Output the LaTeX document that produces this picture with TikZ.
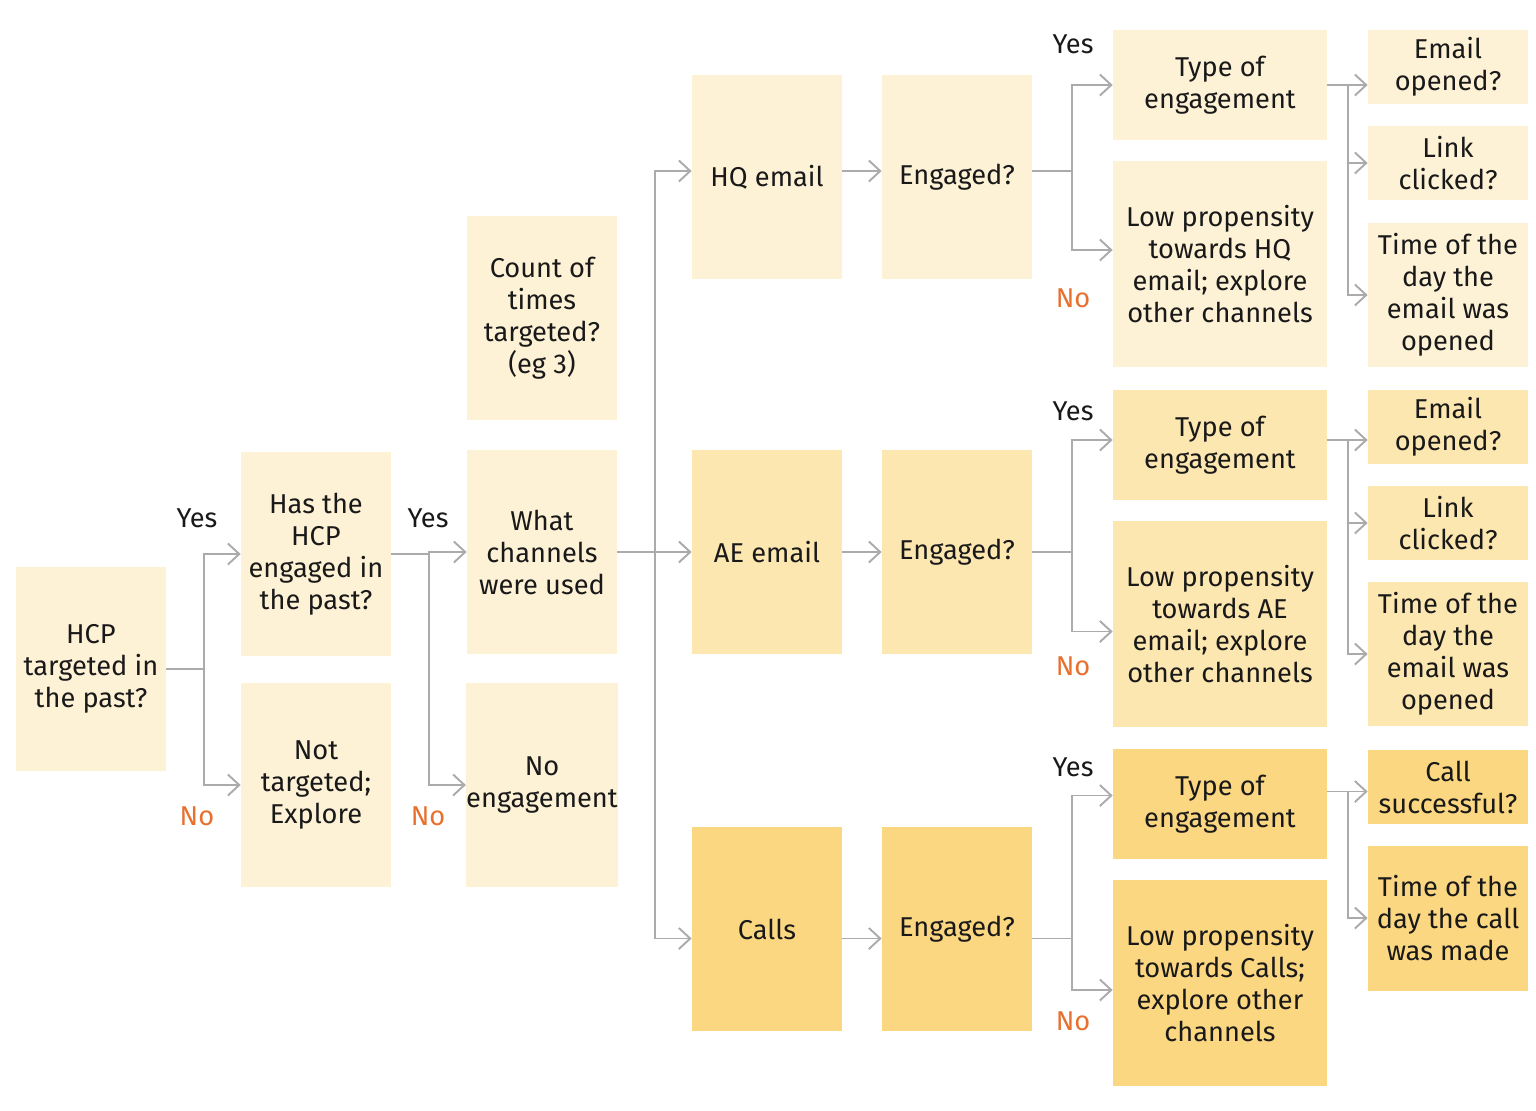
\documentclass[tikz,border=0pt]{standalone}
\usepackage{fontspec}
\setmainfont{Fira Sans}
\usepackage{tikz}
\usetikzlibrary{arrows.meta,positioning}
\usepackage{xcolor}
\definecolor{palebox}{HTML}{FEF2D6}
\definecolor{midbox}{HTML}{FDE7B0}
\definecolor{deepbox}{HTML}{FCD782}
\definecolor{linkgray}{HTML}{ABABAB}
\definecolor{noorange}{HTML}{E8702F}

\begin{document}
\begin{tikzpicture}[
  x=0.02cm, y=-0.02cm,
  box/.style={inner sep=0pt, align=center, text=black!90,
    font=\fontsize{15.5pt}{18.2pt}\selectfont},
  tall/.style={box, minimum width=3.0cm, minimum height=4.1cm},
  wide/.style={box, minimum width=4.28cm, minimum height=2.2cm},
  widetall/.style={box, minimum width=4.28cm, minimum height=4.12cm},
  small/.style={box, minimum width=3.2cm, minimum height=1.48cm},
  smalltall/.style={box, minimum width=3.2cm, minimum height=2.9cm},
  pale/.style={fill=palebox},
  mid/.style={fill=midbox},
  deep/.style={fill=deepbox},
  link/.style={draw=linkgray, line width=1.1pt,
    -{Straight Barb[length=6.5pt, width=12pt, line width=1.1pt]}},
  yes/.style={font=\fontsize{15.5pt}{18.2pt}\selectfont, text=black!90},
  no/.style={font=\fontsize{15.5pt}{18.2pt}\selectfont, text=noorange}
]
  \useasboundingbox (0,0) rectangle (1536,1110);

  % First levels
  \node[tall, pale] (hcp)      at ( 91, 669) {HCP\\targeted in\\the past?};
  \node[tall, pale] (engaged)  at (316, 554) {Has the\\HCP\\engaged in\\the past?};
  \node[tall, pale] (nottgt)   at (316, 785) {Not\\targeted;\\Explore};
  \node[tall, pale] (count)    at (542, 318) {Count of\\times\\targeted?\\(eg 3)};
  \node[tall, pale] (channels) at (542, 552) {What\\channels\\were used};
  \node[tall, pale] (noeng)    at (542, 785) {No\\engagement};

  % Channels
  \node[tall, pale] (hq)      at (767, 177) {HQ email};
  \node[tall, pale] (hqeng)   at (957, 177) {Engaged?};
  \node[tall, mid]  (ae)      at (767, 552) {AE email};
  \node[tall, mid]  (aeeng)   at (957, 552) {Engaged?};
  \node[tall, deep] (calls)   at (767, 929) {Calls};
  \node[tall, deep] (calleng) at (957, 929) {Engaged?};

  % HQ email branch
  \node[wide, pale]      (hqtype) at (1220,  85) {Type of\\engagement};
  \node[widetall, pale]  (hqlow)  at (1220, 264) {Low propensity\\towards HQ\\email; explore\\other channels};
  \node[small, pale]     (hqopen) at (1448,  67) {Email\\opened?};
  \node[small, pale]     (hqlink) at (1448, 163) {Link\\clicked?};
  \node[smalltall, pale] (hqtime) at (1448, 295) {Time of the\\day the\\email was\\opened};

  % AE email branch
  \node[wide, mid]      (aetype) at (1220, 445) {Type of\\engagement};
  \node[widetall, mid]  (aelow)  at (1220, 624) {Low propensity\\towards AE\\email; explore\\other channels};
  \node[small, mid]     (aeopen) at (1448, 427) {Email\\opened?};
  \node[small, mid]     (aelink) at (1448, 523) {Link\\clicked?};
  \node[smalltall, mid] (aetime) at (1448, 654) {Time of the\\day the\\email was\\opened};

  % Calls branch
  \node[wide, deep]      (calltype) at (1220, 804) {Type of\\engagement};
  \node[widetall, deep]  (calllow)  at (1220, 983) {Low propensity\\towards Calls;\\explore other\\channels};
  \node[small, deep]     (callok)   at (1448, 787) {Call\\successful?};
  \node[smalltall, deep] (calltime) at (1448, 918) {Time of the\\day the call\\was made};

  % Yes / No labels
  \node[yes] (y1) at ( 197,  518) {Yes};
  \node[no]  (n1) at ( 197,  816) {No};
  \node[yes] (y2) at ( 428,  518) {Yes};
  \node[no]  (n2) at ( 428,  816) {No};
  \node[yes] (y3) at (1073,   44) {Yes};
  \node[no]  (n3) at (1073,  298) {No};
  \node[yes] (y4) at (1073,  411) {Yes};
  \node[no]  (n4) at (1073,  666) {No};
  \node[yes] (y5) at (1073,  767) {Yes};
  \node[no]  (n5) at (1073, 1021) {No};

  % Connectors, first levels
  \draw[link] (hcp.east) -- ++(38,0) coordinate (s1) |- (engaged.west);
  \draw[link] (s1) |- (nottgt.west);
  \draw[link] (engaged.east) -- ++(38,0) coordinate (s2) |- (channels.west);
  \draw[link] (s2) |- (noeng.west);
  \draw[link] (channels.east) -- ++(38,0) coordinate (s3) |- ([yshift=.12cm]hq.west);
  \draw[link] (s3) |- (ae.west);
  \draw[link] (s3) |- ([yshift=-.19cm]calls.west);

  % Channel to engaged
  \draw[link] ([yshift=.12cm]hq.east) -- ([yshift=.12cm]hqeng.west);
  \draw[link] (ae.east) -- (aeeng.west);
  \draw[link] ([yshift=-.19cm]calls.east) -- ([yshift=-.19cm]calleng.west);

  % HQ email split
  \draw[link] ([yshift=.12cm]hqeng.east) -- ++(40,0) coordinate (s4) |- (hqtype.west);
  \draw[link] (s4) |- ([yshift=.28cm]hqlow.west);
  \draw[link] (hqtype.east) -- ++(21,0) coordinate (s5) -- (s5 -| hqopen.west);
  \draw[link] (s5) |- (hqlink.west);
  \draw[link] (s5) |- (hqtime.west);

  % AE email split
  \draw[link] (aeeng.east) -- ++(40,0) coordinate (s6) |- ([yshift=.1cm]aetype.west);
  \draw[link] (s6) |- ([yshift=-.15cm]aelow.west);
  \draw[link] ([yshift=.1cm]aetype.east) -- ++(21,0) coordinate (s7) -- (s7 -| aeopen.west);
  \draw[link] (s7) |- (aelink.west);
  \draw[link] (s7) |- (aetime.west);

  % Calls split
  \draw[link] ([yshift=-.19cm]calleng.east) -- ++(40,0) coordinate (s8) |- ([yshift=.17cm]calltype.west);
  \draw[link] (s8) |- ([yshift=-.14cm]calllow.west);
  \draw[link] ([yshift=.25cm]calltype.east) -- ++(21,0) coordinate (s9) -- (s9 -| callok.west);
  \draw[link] (s9) |- (calltime.west);

\end{tikzpicture}
\end{document}
